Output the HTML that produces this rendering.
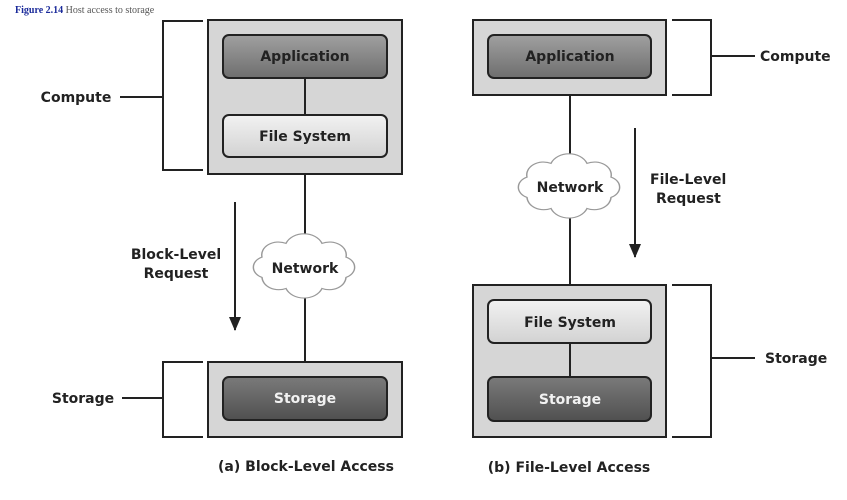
<!DOCTYPE html>
<html><head><meta charset="utf-8"><style>
html,body{margin:0;padding:0;background:#fff;}
svg{display:block;font-family:"DejaVu Sans","Liberation Sans",sans-serif;}
.b{font-weight:bold;font-size:14px;fill:#222;}
</style></head><body>
<svg width="847" height="500" viewBox="0 0 847 500" xmlns="http://www.w3.org/2000/svg">
<defs>
<linearGradient id="dk" x1="0" y1="0" x2="0" y2="1"><stop offset="0" stop-color="#a0a0a0"/><stop offset="1" stop-color="#6e6e6e"/></linearGradient>
<linearGradient id="lt" x1="0" y1="0" x2="0" y2="1"><stop offset="0" stop-color="#f2f2f2"/><stop offset="1" stop-color="#d2d2d2"/></linearGradient>
<linearGradient id="st" x1="0" y1="0" x2="0" y2="1"><stop offset="0" stop-color="#7a7a7a"/><stop offset="1" stop-color="#505050"/></linearGradient>
<path id="cloud" d="M15,45 a12,12 0 0 1 0,-22 a14,14 0 0 1 20,-15 a16,16 0 0 1 30,0 a14,14 0 0 1 20,15 a12,12 0 0 1 0,22 a14,14 0 0 1 -20,12 a16,16 0 0 1 -30,0 a14,14 0 0 1 -20,-12 z"/>
<marker id="ar" markerWidth="14" markerHeight="12" refX="13" refY="6" orient="auto" markerUnits="userSpaceOnUse"><path d="M0,0 L14,6 L0,12 z" fill="#222"/></marker>
</defs>
<text x="15" y="13" font-family="Liberation Serif,serif" font-size="10" font-weight="bold" fill="#1a2a9a">Figure 2.14 <tspan font-weight="normal" fill="#555">Host access to storage</tspan></text>

<g stroke="#222" stroke-width="2" fill="none">
<line x1="305" y1="78" x2="305" y2="240"/>
<line x1="305" y1="295" x2="305" y2="362"/>
<rect x="208" y="20" width="194" height="154" fill="#d6d6d6"/>
<rect x="208" y="362" width="194" height="75" fill="#d6d6d6"/>
<line x1="305" y1="78" x2="305" y2="115"/>
<path d="M203,21 H163 V170 H203"/>
<line x1="120" y1="97" x2="163" y2="97"/>
<path d="M203,362 H163 V437 H203"/>
<line x1="122" y1="398" x2="163" y2="398"/>
<line x1="235" y1="202" x2="235" y2="330" marker-end="url(#ar)"/>
<line x1="570" y1="95" x2="570" y2="160"/>
<line x1="570" y1="215" x2="570" y2="285"/>
<rect x="473" y="20" width="193" height="75" fill="#d6d6d6"/>
<rect x="473" y="285" width="193" height="152" fill="#d6d6d6"/>
<line x1="570" y1="343" x2="570" y2="377"/>
<path d="M672,20 H711 V95 H672"/>
<line x1="711" y1="56" x2="755" y2="56"/>
<path d="M672,285 H711 V437 H672"/>
<line x1="711" y1="358" x2="755" y2="358"/>
<line x1="635" y1="128" x2="635" y2="257" marker-end="url(#ar)"/>
</g>
<g stroke="#222" stroke-width="2">
<rect x="223" y="35" width="164" height="43" rx="6" fill="url(#dk)"/>
<rect x="223" y="115" width="164" height="42" rx="6" fill="url(#lt)"/>
<rect x="223" y="377" width="164" height="43" rx="6" fill="url(#st)"/>
<rect x="488" y="35" width="163" height="43" rx="6" fill="url(#dk)"/>
<rect x="488" y="300" width="163" height="43" rx="6" fill="url(#lt)"/>
<rect x="488" y="377" width="163" height="44" rx="6" fill="url(#st)"/>
</g>
<use href="#cloud" transform="translate(244,236) scale(1.2,0.92)" fill="#fff" stroke="#999" stroke-width="1.2"/>
<use href="#cloud" transform="translate(509,156) scale(1.2,0.92)" fill="#fff" stroke="#999" stroke-width="1.2"/>

<g class="b" text-anchor="middle">
<text x="305" y="61">Application</text>
<text x="305" y="141">File System</text>
<text x="305" y="403" style="fill:#f2f2f2">Storage</text>
<text x="305" y="273">Network</text>
<text x="570" y="61">Application</text>
<text x="570" y="327">File System</text>
<text x="570" y="404" style="fill:#f2f2f2">Storage</text>
<text x="570" y="192">Network</text>
<text x="176" y="259">Block-Level</text>
<text x="176" y="278">Request</text>
<text x="76" y="102">Compute</text>
<text x="83" y="403">Storage</text>
<text x="306" y="471">(a) Block-Level Access</text>
<text x="569" y="472">(b) File-Level Access</text>
</g>
<g class="b">
<text x="650" y="184">File-Level</text>
<text x="656" y="203">Request</text>
<text x="760" y="61">Compute</text>
<text x="765" y="363">Storage</text>
</g>
</svg>
</body></html>
